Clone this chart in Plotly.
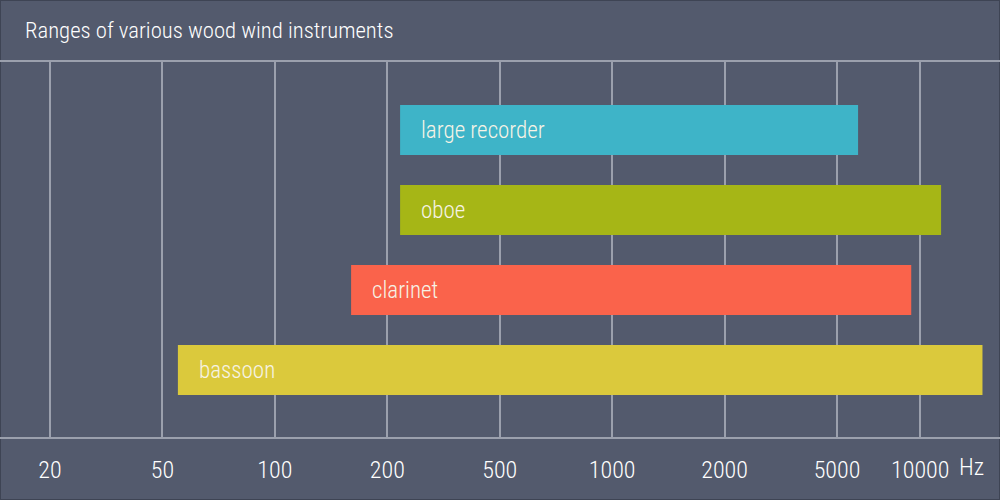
import numpy as np
import plotly.graph_objects as go

# ranges in Hz
instruments = ["bassoon", "clarinet", "oboe", "large recorder"]
low_hz = [55, 160, 222, 222]
high_hz = [16800, 9280, 11900, 5960]
colors = ["#dbc93c", "#fa634b", "#a6b616", "#3eb4c8"]

tick_hz = [20, 50, 100, 200, 500, 1000, 2000, 5000, 10000]
tick_text = ["20", "50", "100", "200", "500", "1000", "2000", "5000", "10000"]
# the chart spaces its ticks evenly, except the last one
tick_pos = [0, 1, 2, 3, 4, 5, 6, 7, 7.74]

bg = "#535a6d"
grid = "#9ba0ad"
font = "Roboto Condensed, Noto Sans"


def to_pos(hz):
    lt = np.log10(tick_hz)
    lf = np.log10(hz)
    if lf > lt[-1]:
        slope = (tick_pos[-1] - tick_pos[-2]) / (lt[-1] - lt[-2])
        return tick_pos[-1] + (lf - lt[-1]) * slope
    return float(np.interp(lf, lt, tick_pos))


starts = [to_pos(v) for v in low_hz]
ends = [to_pos(v) for v in high_hz]
ypos = list(range(len(instruments)))

fig = go.Figure()
fig.add_trace(go.Bar(
    y=ypos, x=[e - s for s, e in zip(starts, ends)], base=starts,
    orientation="h", width=0.625, marker=dict(color=colors, line_width=0),
    hoverinfo="skip"))

for name, s, y in zip(instruments, starts, ypos):
    fig.add_annotation(x=s, y=y, text=name, showarrow=False, xanchor="left",
                       xshift=19, font=dict(family=font, size=23, color="#f6f3e6", weight=300))

fig.add_annotation(x=0.023, y=1.085, xref="paper", yref="paper", text="Ranges of various wood wind instruments",
                   showarrow=False, xanchor="left", yanchor="middle",
                   font=dict(family=font, size=22.7, color="white", weight=300))

fig.add_annotation(x=8.2, y=-0.8375, yref="y", text="Hz", showarrow=False, yshift=-30,
                   font=dict(family=font, size=24, color="white", weight=300))

fig.update_layout(
    width=1000, height=500, showlegend=False,
    paper_bgcolor=bg, plot_bgcolor=bg,
    margin=dict(l=0, r=0, t=62, b=63),
    shapes=[dict(type="rect", xref="paper", yref="paper", x0=0, x1=1, y0=-63 / 375, y1=1 + 62 / 375,
                 line=dict(color="#3e4454", width=2), layer="below")],
)
fig.update_xaxes(range=[-50 / 112.43, 950 / 112.43], tickvals=tick_pos, ticktext=tick_text,
                 showgrid=True, gridcolor=grid, gridwidth=1.5, zeroline=False,
                 showline=True, mirror=True, linecolor=grid, linewidth=1.5,
                 ticks="outside", ticklen=10, tickcolor=bg,
                 tickfont=dict(family=font, size=24, color="white", weight=300), fixedrange=True)
fig.update_yaxes(range=[-0.8375, -0.8375 + 375 / 80], visible=False, fixedrange=True)

fig.write_html("out.html", config={"displayModeBar": False},
               post_script="document.body.style.margin='0';")
